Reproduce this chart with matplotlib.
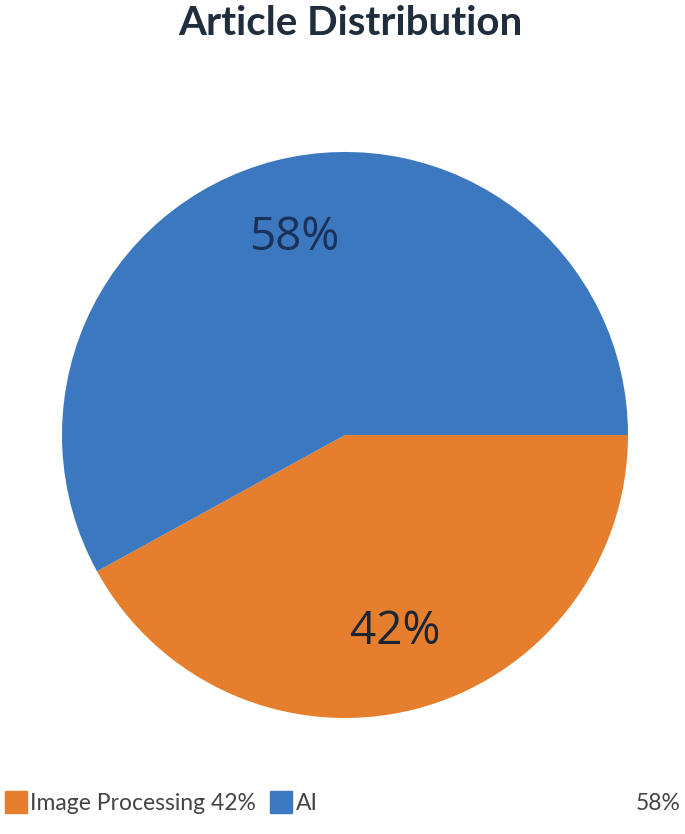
import matplotlib
matplotlib.use("Agg")
from matplotlib import pyplot as plt
from matplotlib.patches import Rectangle

# data
labels = ["Image Processing", "AI"]
shares = [42, 58]
colors = ["#E57F2E", "#3C78BF"]

fig = plt.figure(figsize=(6.85, 8.34), dpi=100)

# pie
ax = fig.add_axes([0.0905, 0.1391, 0.8263, 0.6787])
wedges, texts, autotexts = ax.pie(
    shares, colors=colors, startangle=0, counterclock=False,
    autopct="%d%%", pctdistance=0.72,
    textprops=dict(fontsize=33, family="Open Sans", color="#1b2535"),
)
autotexts[1].set_color("#1c3158")
ax.set_xlim(-1, 1)
ax.set_ylim(-1, 1)
ax.set_aspect("equal")

fig.text(0.512, 0.972, "Article Distribution", ha="center", va="center",
         fontsize=29, fontweight="bold", family="Lato", color="#1f2d3d")

# legend, bottom row
y = 0.036
fig.patches.append(Rectangle((0.007, 0.025), 0.032, 0.026, color=colors[0],
                             transform=fig.transFigure, figure=fig))
fig.text(0.044, y, f"{labels[0]} {shares[0]}%", va="center", fontsize=16.5,
         family="Lato", color="#444444")
fig.patches.append(Rectangle((0.394, 0.025), 0.032, 0.026, color=colors[1],
                             transform=fig.transFigure, figure=fig))
fig.text(0.432, y, labels[1], va="center", fontsize=16.5,
         family="Lato", color="#444444")
fig.text(0.993, y, f"{shares[1]}%", ha="right", va="center", fontsize=16.5,
         family="Lato", color="#444444")

fig.savefig("out.png", dpi=100)
